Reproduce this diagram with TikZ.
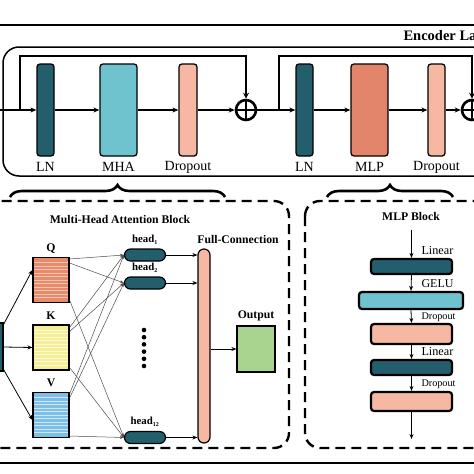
\documentclass[tikz,border=0pt]{standalone}
\usepackage{fontspec}
\setmainfont{Liberation Serif}
\usetikzlibrary{arrows.meta,decorations.pathreplacing,calc}
\definecolor{teal1}{HTML}{235E6D}
\definecolor{cyan1}{HTML}{6FC3CF}
\definecolor{salm}{HTML}{F6B8A3}
\definecolor{mlpc}{HTML}{E3856B}
\definecolor{qc}{HTML}{E98A6C}
\definecolor{qs}{HTML}{F6C7B3}
\definecolor{kc}{HTML}{F6EE96}
\definecolor{ks}{HTML}{FFFBD8}
\definecolor{vc}{HTML}{7DBFE9}
\definecolor{vs}{HTML}{CFE8F8}
\definecolor{outc}{HTML}{A8D48F}
\tikzset{
  encbox/.style={draw=black,line width=1.3pt,rounded corners=3pt,minimum height=92pt,inner sep=0pt},
  lbl/.style={font=\fontsize{14}{16}\selectfont},
  btitle/.style={font=\fontsize{11.7}{13}\selectfont\bfseries},
  mainarr/.style={line width=1.8pt,-{Stealth[length=6pt,width=5pt]}},
  skiparr/.style={line width=2.8pt,-{Stealth[length=6pt,width=6pt]}},
  thinarr/.style={line width=0.5pt,draw=black!70,-{Stealth[length=4pt,width=3pt]}},
  midarr/.style={line width=0.8pt,-{Stealth[length=5pt,width=4pt]}},
  headbox/.style={draw=black,line width=1.2pt,fill=teal1,rounded corners=6pt,minimum width=41pt,minimum height=12pt,inner sep=0pt},
  mlpbox/.style={draw=black,line width=2.2pt,rounded corners=3pt,inner sep=0pt},
  dashbox/.style={line width=2.4pt,dash pattern=on 10pt off 6pt,rounded corners=15pt},
  qkv/.style={draw=black,line width=1.2pt,minimum width=36pt,minimum height=45pt,inner sep=0pt},
  bracestyle/.style={decorate,decoration={brace,amplitude=12pt},line width=2.6pt},
}
\begin{document}
\begin{tikzpicture}[x=1pt,y=-1pt]
\useasboundingbox (0,0) rectangle (474,474);
\clip (0,0) rectangle (474,474);
% outer frame
\draw[line width=2pt] (-5,25) rectangle (530,463);
\node[font=\fontsize{14.5}{16}\selectfont\bfseries,anchor=west] (enc) at (400,37) {Encoder Layer};
\draw[line width=1.5pt,rounded corners=16pt] (3,47) rectangle (540,176);
% encoder row
\node[encbox,fill=teal1,minimum width=17pt] (ln1) at (45.5,110) {};
\node[encbox,fill=cyan1,minimum width=37pt] (mha) at (118.5,110) {};
\node[encbox,fill=salm,minimum width=18pt] (do1) at (188,110) {};
\node[circle,draw=black,line width=2.6pt,minimum size=20pt,inner sep=0pt] (p1) at (246,110) {};
\draw[line width=2pt] (p1.north) -- (p1.south) (p1.west) -- (p1.east);
\node[encbox,fill=teal1,minimum width=17pt] (ln2) at (304.5,110) {};
\node[encbox,fill=mlpc,minimum width=37pt] (mlp) at (369.5,110) {};
\node[encbox,fill=salm,minimum width=17pt] (do2) at (436.5,110) {};
\node[circle,draw=black,line width=2.6pt,minimum size=20pt,inner sep=0pt] (p2) at (472,110) {};
\draw[line width=2pt] (p2.north) -- (p2.south) (p2.west) -- (p2.east);
\coordinate (in) at (-5,110);
\coordinate (s1) at (20,110);
\coordinate (t1) at (20,56);
\coordinate (s2) at (279,110);
\coordinate (t2) at (279,56);
\draw[mainarr] (in) -- (ln1.west);
\draw[mainarr] (ln1.east) -- (mha.west);
\draw[mainarr] (mha.east) -- (do1.west);
\draw[mainarr] (do1.east) -- (p1.west);
\draw[mainarr] (p1.east) -- (ln2.west);
\draw[mainarr] (ln2.east) -- (mlp.west);
\draw[mainarr] (mlp.east) -- (do2.west);
\draw[mainarr] (do2.east) -- (p2.west);
\draw[skiparr] (s1) -- (t1) -| (p1.north);
\draw[skiparr] (s2) -- (t2) -| (p2.north);
\node[lbl] (l1) at (45.5,167) {LN};
\node[lbl] (l2) at (118.5,167) {MHA};
\node[lbl] (l3) at (188,167) {Dropout};
\node[lbl] (l4) at (304.5,167) {LN};
\node[lbl] (l5) at (369.5,167) {MLP};
\node[lbl] (l6) at (436.5,167) {Dropout};
% braces
\coordinate (b1a) at (10,197);
\coordinate (b1b) at (225,197);
\coordinate (b2a) at (327,197);
\coordinate (b2b) at (453,197);
\draw[bracestyle] (b1a) -- (b1b);
\draw[bracestyle] (b2a) -- (b2b);
% dashed blocks
\draw[dashbox] (-30,201) rectangle (289,448);
\draw[dashbox] (305,201) rectangle (540,448);
\node[btitle] (mhat) at (120,220) {Multi-Head Attention Block};
\node[btitle] (mlpt) at (411,216) {MLP Block};
% MHA internals
\node[draw=black,line width=1.2pt,fill=teal1,minimum width=30pt,minimum height=48pt,inner sep=0pt] (x) at (-12,347) {};
\node[qkv,fill=qc] (Q) at (51,280) {};
\node[qkv,fill=kc] (K) at (51,347.5) {};
\node[qkv,fill=vc] (V) at (51,415) {};
\foreach \yy in {262.5,266,...,300} {\draw[qs,line width=0.9pt] (33.7,\yy) -- (68.3,\yy);}
\foreach \yy in {330,333.5,...,367} {\draw[ks,line width=0.9pt] (33.7,\yy) -- (68.3,\yy);}
\foreach \yy in {397.5,401,...,435} {\draw[vs,line width=0.9pt] (33.7,\yy) -- (68.3,\yy);}
\node[qkv,fill=none] (Qb) at (51,280) {};
\node[qkv,fill=none] (Kb) at (51,347.5) {};
\node[qkv,fill=none] (Vb) at (51,415) {};
\node[btitle] (ql) at (51,249) {Q};
\node[btitle] (kl) at (51,316) {K};
\node[btitle] (vl) at (51,383) {V};
\draw[midarr] ([yshift=-2pt]x.north east) -- ([yshift=10pt]Q.west);
\draw[midarr] (x.east) -- (K.west);
\draw[midarr] ([yshift=2pt]x.south east) -- ([yshift=-5pt]V.west);
\node[headbox] (h1) at (145,255) {};
\node[headbox] (h2) at (145,283) {};
\node[headbox] (h12) at (145,437.5) {};
\node[font=\fontsize{10.8}{12}\selectfont\bfseries] (h1l) at (145,240) {head\textsubscript{\fontsize{6}{7}\selectfont 1}};
\node[font=\fontsize{10.8}{12}\selectfont\bfseries] (h2l) at (145,268) {head\textsubscript{\fontsize{6}{7}\selectfont 2}};
\node[font=\fontsize{10.8}{12}\selectfont\bfseries] (h12l) at (145,422) {head\textsubscript{\fontsize{6}{7}\selectfont 12}};
\foreach \i in {0,...,5} {\fill ($(h2)+(-1,47+7.2*\i)$) circle (2.3pt);}
\draw[thinarr] ([yshift=21pt]Q.east) -- (h1.west);
\draw[thinarr] ([yshift=17pt]Q.east) -- (h2.west);
\draw[thinarr] ([yshift=-20pt]Q.east) -- (h12.west);
\draw[thinarr] ([yshift=20pt]K.east) -- (h1.west);
\draw[thinarr] ([yshift=16pt]K.east) -- (h2.west);
\draw[thinarr] ([yshift=-20pt]K.east) -- (h12.west);
\draw[thinarr] ([yshift=21pt]V.east) -- (h1.west);
\draw[thinarr] ([yshift=17pt]V.east) -- (h2.west);
\draw[thinarr] ([yshift=-21pt]V.east) -- (h12.west);
\node[draw=black,line width=1.2pt,fill=salm,rounded corners=6pt,minimum width=12pt,minimum height=194pt,inner sep=0pt] (fc) at (204,346) {};
\node[btitle] (fcl) at (238,240) {Full-Connection};
\draw[midarr] (h1.east) -- (h1.east -| fc.west);
\draw[midarr] (h2.east) -- (h2.east -| fc.west);
\draw[midarr] (h12.east) -- (h12.east -| fc.west);
\node[draw=black,line width=1.2pt,fill=outc,minimum width=38pt,minimum height=46pt,inner sep=0pt] (out) at (256,349) {};
\node[btitle] (outl) at (256,316) {Output};
\draw[midarr] (fc.east |- out.west) -- (out.west);
% MLP internals
\node[mlpbox,fill=teal1,minimum width=81pt,minimum height=15pt] (m1) at (411.5,266.5) {};
\node[mlpbox,fill=cyan1,minimum width=104pt,minimum height=17pt] (m2) at (411,300.5) {};
\node[mlpbox,fill=salm,minimum width=81pt,minimum height=20pt] (m3) at (411.5,334) {};
\node[mlpbox,fill=teal1,minimum width=81pt,minimum height=15pt] (m4) at (411.5,367.5) {};
\node[mlpbox,fill=salm,minimum width=81pt,minimum height=19pt] (m5) at (411.5,401.5) {};
\coordinate (mtop) at (411.5,230);
\coordinate (mbot) at (411.5,439);
\draw[midarr] (mtop) -- (m1.north);
\draw[midarr] (m1.south) -- (m2.north);
\draw[midarr] (m2.south) -- (m3.north);
\draw[midarr] (m3.south) -- (m4.north);
\draw[midarr] (m4.south) -- (m5.north);
\draw[midarr] (m5.south) -- (mbot);
\node[anchor=west,font=\fontsize{12.2}{13}\selectfont] (ml1) at (418,251) {Linear};
\node[anchor=west,font=\fontsize{12}{13}\selectfont] (ml2) at (418,283.5) {GELU};
\node[anchor=west,font=\fontsize{10.2}{11}\selectfont] (ml3) at (418,317) {Dropout};
\node[anchor=west,font=\fontsize{12.2}{13}\selectfont] (ml4) at (418,352) {Linear};
\node[anchor=west,font=\fontsize{10.2}{11}\selectfont] (ml5) at (418,384) {Dropout};
\end{tikzpicture}
\end{document}
